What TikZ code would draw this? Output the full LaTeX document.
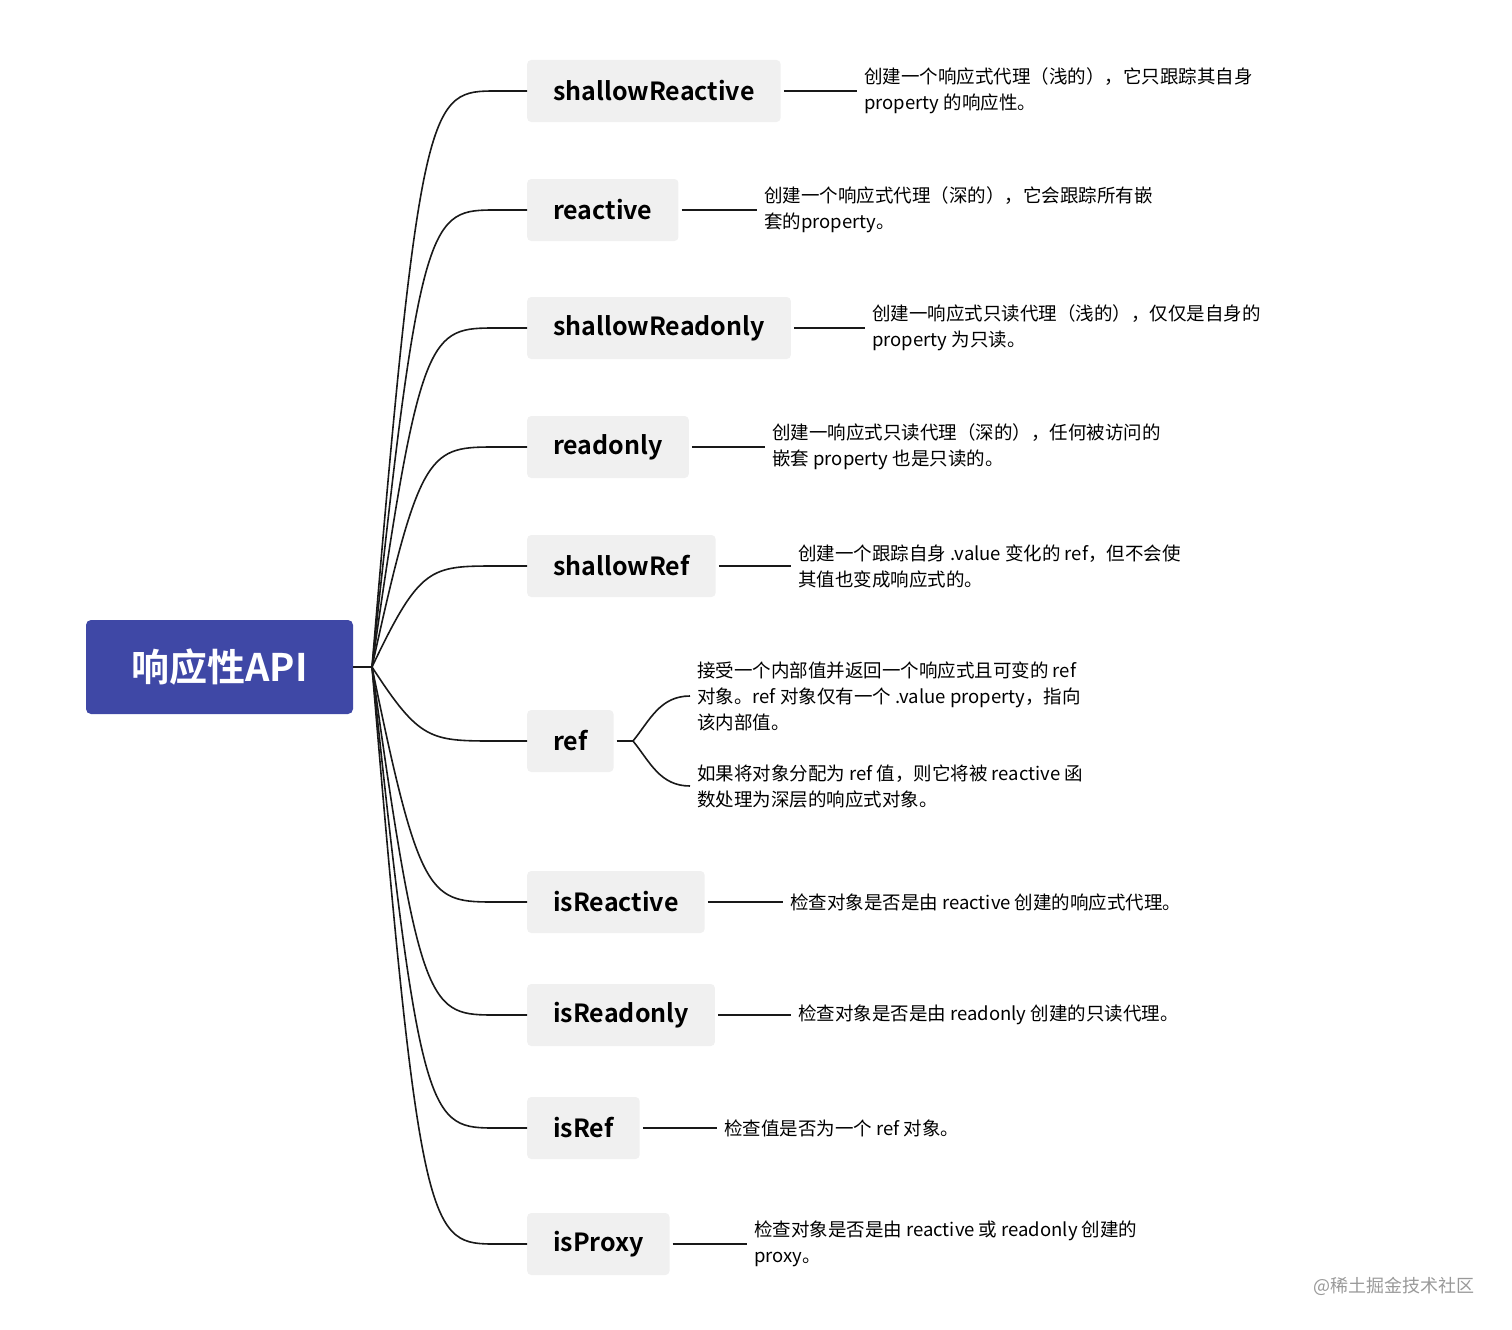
\documentclass[tikz,border=0pt]{standalone}
\usepackage{fontspec}
\setmainfont{Noto Sans CJK SC}[BoldFont={Noto Sans CJK SC Bold}]
\begin{document}
\begin{tikzpicture}[x=1pt,y=-1pt,
  box/.style={fill=black!6,rounded corners=4pt,anchor=west,minimum height=62pt,inner xsep=26pt,font=\fontsize{25}{30}\selectfont\bfseries},
  desc/.style={anchor=west,inner sep=0pt,align=left,font=\fontsize{18.5}{26}\selectfont},
  ln/.style={line width=1.6pt,black!90}]
\useasboundingbox (0,0) rectangle (1512,1330);
\node[fill={rgb,255:red,63;green,72;blue,166},rounded corners=5pt,minimum width=267pt,minimum height=94pt,text=white,font=\fontsize{38}{44}\selectfont\bfseries] (root) at (219.5,667) {响应性API};
\coordinate (hub) at (372,667);
\draw[ln] (root.east) -- (hub);
\foreach \n/\t/\y/\dx/\d in {
 a/shallowReactive/91/864/{创建一个响应式代理（浅的），它只跟踪其自身\\property 的响应性。},
 b/reactive/210/764/{创建一个响应式代理（深的），它会跟踪所有嵌\\套的property。},
 c/shallowReadonly/328/872/{创建一响应式只读代理（浅的），仅仅是自身的\\property 为只读。},
 d/readonly/447/772/{创建一响应式只读代理（深的），任何被访问的\\嵌套 property 也是只读的。},
 e/shallowRef/566/798/{创建一个跟踪自身 .value 变化的 ref，但不会使\\其值也变成响应式的。},
 g/isReactive/902/790/{检查对象是否是由 reactive 创建的响应式代理。},
 h/isReadonly/1015/798/{检查对象是否是由 readonly 创建的只读代理。},
 i/isRef/1128/724/{检查值是否为一个 ref 对象。},
 j/isProxy/1244/754/{检查对象是否是由 reactive 或 readonly 创建的\\proxy。}}{
  \node[box] (\n) at (527,\y) {\t};
  \node[desc] (\n d) at (\dx,\y) {\d};
  \draw[ln] (hub) .. controls (420,\y) and (430,\y) .. (497,\y) -- (\n.west);
  \draw[ln] ([xshift=3pt]\n.east) -- ([xshift=-7pt]\n d.west);
}
\node[box] (f) at (527,741) {ref};
\draw[ln] (hub) .. controls (420,741) and (430,741) .. (497,741) -- (f.west);
\node[desc] (f1) at (697,696) {接受一个内部值并返回一个响应式且可变的 ref\\对象。ref 对象仅有一个 .value property，指向\\该内部值。};
\node[desc] (f2) at (697,786) {如果将对象分配为 ref 值，则它将被 reactive 函\\数处理为深层的响应式对象。};
\coordinate (fb) at (633,741);
\draw[ln] ([xshift=3pt]f.east) -- (fb);
\draw[ln] (fb) .. controls (650,720) and (660,696) .. ([xshift=-7pt]f1.west);
\draw[ln] (fb) .. controls (650,762) and (660,786) .. ([xshift=-7pt]f2.west);
\node[anchor=east,text=black!40,font=\fontsize{18}{20}\selectfont] (wm) at (1478,1286) {@稀土掘金技术社区};
\end{tikzpicture}
\end{document}
